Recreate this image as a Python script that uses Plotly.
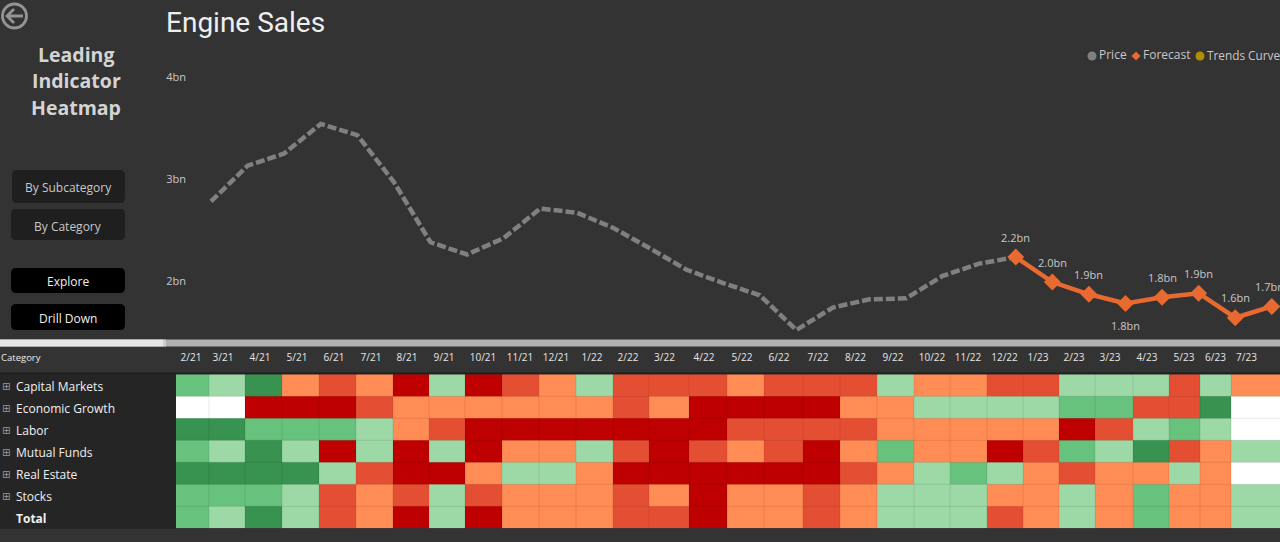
import plotly.graph_objects as go

W_PX, H_PX = 1280, 542

# ---------- data ----------
months = ["2/21","3/21","4/21","5/21","6/21","7/21","8/21","9/21","10/21","11/21","12/21","1/22",
          "2/22","3/22","4/22","5/22","6/22","7/22","8/22","9/22","10/22","11/22","12/22","1/23",
          "2/23","3/23","4/23","5/23","6/23","7/23"]
price = [2.78,3.13,3.25,3.54,3.43,2.97,2.38,2.26,2.42,2.71,2.67,2.52,2.32,2.11,1.98,1.86,1.52,
         1.74,1.82,1.83,2.05,2.17,2.235]
forecast_months = ["12/22","1/23","2/23","3/23","4/23","5/23","6/23","7/23"]
forecast = [2.235,1.99,1.87,1.78,1.84,1.88,1.64,1.75]
forecast_labels = ["2.2bn","2.0bn","1.9bn","1.8bn","1.8bn","1.9bn","1.6bn","1.7bn"]
categories = ["Capital Markets","Economic Growth","Labor","Mutual Funds","Real Estate","Stocks","Total"]
# score classes: 0 dark red, 1 red, 2 orange, 3 light green, 4 green, 5 dark green, 6 blank (white)
capital_markets = [4,3,5,2,1,2,0,3,0,1,2,3,1,1,1,2,1,1,1,3,2,2,1,1,3,3,3,1,3,2]
economic_growth = [6,6,0,0,0,1,2,2,2,2,2,2,1,2,0,0,0,0,2,2,3,3,3,3,4,4,1,1,5,6]
labor           = [5,5,4,4,4,3,2,1,0,0,0,0,0,0,0,1,1,1,1,2,2,2,2,2,0,1,3,4,3,6]
mutual_funds    = [4,3,5,3,0,3,0,3,0,2,2,3,1,0,1,2,1,0,2,4,2,2,0,1,4,3,5,1,2,3]
real_estate     = [5,5,5,5,3,1,0,0,2,3,3,2,0,0,0,0,0,0,1,2,3,4,3,2,1,2,2,3,2,6]
stocks          = [4,4,4,3,1,2,1,3,1,2,2,2,1,2,0,2,2,1,2,3,3,3,2,2,3,2,4,2,2,3]
total           = [4,3,5,3,1,2,0,3,0,2,2,2,1,1,0,2,2,1,2,3,3,3,1,2,3,2,4,2,2,3]

# ---------- layout helpers (pixel geometry of the page) ----------
col_edges = [176,209,245,282,319,356,393,429,465,502,539,576,613,649,689,727,764,803,840,877,
             914,950,987,1023,1059,1095,1133,1169,1200,1231,1280]
month_label_x = [191,223,260,297,334,371,407,444,483,520,556,592,628,664.5,704,742,779,818,855.5,
                 893,932,968,1004.5,1038,1074,1110,1147,1184,1215.5,1246.5]
ROW_TOP, ROW_H = 374.3, 22.0
LINE_X0, LINE_STEP = 211.0, 36.58
PLOT_L, PLOT_T, PLOT_B = 190, 60, 338
Y_AT_2 , PX_PER_BN = 281.0, 102.0

def px(x): return x / W_PX
def py(y): return 1 - y / H_PX
def rrect(x0, y0, x1, y1, r=5):
    return (f"M{px(x0+r)},{py(y0)} L{px(x1-r)},{py(y0)} Q{px(x1)},{py(y0)} {px(x1)},{py(y0+r)} "
            f"L{px(x1)},{py(y1-r)} Q{px(x1)},{py(y1)} {px(x1-r)},{py(y1)} L{px(x0+r)},{py(y1)} "
            f"Q{px(x0)},{py(y1)} {px(x0)},{py(y1-r)} L{px(x0)},{py(y0+r)} Q{px(x0)},{py(y0)} {px(x0+r)},{py(y0)} Z")

BG = "#333333"
UI = "Open Sans"
COLORS = ["#BE0000","#E44F33","#FF8C55","#9DD8A7","#66C27C","#37934F","#FFFFFF"]
scale = []
for i, c in enumerate(COLORS):
    scale += [[i/7, c], [(i+1)/7, c]]

fig = go.Figure()

# Price / Forecast lines
x_lookup = {m: i for i, m in enumerate(months)}
fig.add_trace(go.Scatter(x=[x_lookup[m] for m in months[:len(price)]], y=price, mode="lines", name="Price",
                         line=dict(color="#808080", width=4.5, dash="9px,3px"), xaxis="x", yaxis="y",
                         showlegend=False, hoverinfo="skip"))
forecast_x = [x_lookup[m] for m in forecast_months]
fig.add_trace(go.Scatter(x=forecast_x, y=forecast, mode="lines+markers", name="Forecast",
                         line=dict(color="#E96A30", width=4.5),
                         marker=dict(symbol="diamond", size=13, color="#E96A30"),
                         xaxis="x", yaxis="y", showlegend=False, hoverinfo="skip"))

# Heatmap
z = [capital_markets, economic_growth, labor, mutual_funds, real_estate, stocks, total]
fig.add_trace(go.Heatmap(z=z, x=col_edges, y=list(range(len(categories)+1)), zmin=0, zmax=7,
                         colorscale=scale, showscale=False, xaxis="x2", yaxis="y2", hoverinfo="skip"))

annotations = []
def text(x, y, t, size=12, color="#E6E6E6", anchor="left", family=UI, bold=False):
    annotations.append(dict(x=px(x), y=py(y), xref="paper", yref="paper", xanchor=anchor, yanchor="middle",
                            text=f"<b>{t}</b>" if bold else t, showarrow=False,
                            font=dict(size=size, color=color, family=family)))

# Forecast value labels
for i, (m, v, lab) in enumerate(zip(forecast_x, forecast, forecast_labels)):
    below = lab == "1.8bn" and i == 3
    last = i == len(forecast_x) - 1
    annotations.append(dict(x=m, y=v, xref="x", yref="y", text=lab, showarrow=False,
                            yshift=-22 if below else 20, xshift=-2 if last else 0,
                            font=dict(size=11, color="#C8C8C8", family=UI)))

# Title and side panel
text(164, 22, "Engine Sales", size=28, color="#EFEFEF", family="Roboto")
for y, t in zip([55, 81, 108], ["Leading", "Indicator", "Heatmap"]):
    text(76, y, t, size=19.5, color="#D4D4D4", anchor="center", bold=True)

shapes = []
def rect_px(x0, y0, x1, y1, color, layer="below"):
    shapes.append(dict(type="rect", xref="paper", yref="paper", x0=px(x0), x1=px(x1), y0=py(y1), y1=py(y0),
                       fillcolor=color, line=dict(width=0), layer=layer))

for (x0, y0, x1, y1, fill, label, col) in [
    (12,170,125,203,"#1F1F1F","By Subcategory","#C8C8C8"),
    (11,209,125,240,"#1F1F1F","By Category","#C8C8C8"),
    (11,268,125,293,"#000000","Explore","#EFEFEF"),
    (11,304,125,330,"#000000","Drill Down","#EFEFEF")]:
    shapes.append(dict(type="path", path=rrect(x0,y0,x1,y1), xref="paper", yref="paper",
                       fillcolor=fill, line=dict(width=0), layer="below"))
    text((x0+x1)/2, (y0+y1)/2 + 1.5, label, size=12, color=col, anchor="center")

# Back icon
shapes.append(dict(type="circle", xref="paper", yref="paper", x0=px(2.5), x1=px(26.5), y0=py(28), y1=py(4),
                   line=dict(color="#949494", width=2.8)))
shapes.append(dict(type="path", xref="paper", yref="paper",
                   path=f"M{px(23)},{py(16)} L{px(7)},{py(16)} M{px(14)},{py(9)} L{px(7)},{py(16)} L{px(14)},{py(23)}",
                   line=dict(color="#949494", width=2.8)))

# Legend
shapes.append(dict(type="circle", xref="paper", yref="paper", x0=px(1087.5), x1=px(1096.5), y0=py(60.5), y1=py(51.5),
                   fillcolor="#808080", line=dict(width=0)))
shapes.append(dict(type="path", xref="paper", yref="paper",
                   path=f"M{px(1136)},{py(51.5)} L{px(1140.5)},{py(56)} L{px(1136)},{py(60.5)} L{px(1131.5)},{py(56)} Z",
                   fillcolor="#E96A30", line=dict(width=0)))
shapes.append(dict(type="circle", xref="paper", yref="paper", x0=px(1195.5), x1=px(1204.5), y0=py(60.5), y1=py(51.5),
                   fillcolor="#B08F00", line=dict(width=0)))
text(1097, 55, "Price", color="#C8C8C8")
text(1141, 55, "Forecast", color="#C8C8C8")
text(1205, 55, "Trends Curve", size=11.8, color="#C8C8C8")

# Table furniture
rect_px(0, 339.5, 1280, 346.5, "#B0B0B0")
rect_px(0, 339.5, 163, 346.5, "#E6E6E6")
rect_px(163, 339.5, 166, 346.5, "#CCCCCC")
rect_px(0, 372.5, 1280, 374.5, "#1E1E1E")
rect_px(0, 374.5, 176, 529, "#252525")
text(-1.5, 357, "Category", size=9.5, color="#EAEAEA")

# faint cell seams, as in the reference
seam = "rgba(0,0,0,0.09)"
for e in col_edges[1:-1]:
    shapes.append(dict(type="line", xref="x2", yref="y2", x0=e, x1=e, y0=0, y1=len(categories),
                       line=dict(color=seam, width=1)))
for r in range(1, len(categories)):
    shapes.append(dict(type="line", xref="x2", yref="y2", x0=col_edges[0], x1=col_edges[-1], y0=r, y1=r,
                       line=dict(color=seam, width=1)))

for i, c in enumerate(categories):
    y = ROW_TOP + ROW_H * (i + 0.5) + 0.8
    if c != "Total":
        text(-0.5, y, "⊞", size=10, color="#9A9A9A", family="DejaVu Sans")
    text(14, y, c, size=12, color="#F0F0F0", bold=(c == "Total"))

fig.update_layout(
    width=W_PX, height=H_PX, margin=dict(l=0, r=0, t=0, b=0),
    paper_bgcolor=BG, plot_bgcolor=BG, showlegend=False,
    font=dict(family=UI, color="#C8C8C8"),
    xaxis=dict(domain=[px(PLOT_L), 1], range=[(PLOT_L-LINE_X0)/LINE_STEP, (W_PX-LINE_X0)/LINE_STEP],
               visible=False),
    yaxis=dict(domain=[py(PLOT_B), py(PLOT_T)],
               range=[2+(Y_AT_2-PLOT_B)/PX_PER_BN, 2+(Y_AT_2-PLOT_T)/PX_PER_BN],
               tickvals=[2,3,4], ticktext=["2bn","3bn","4bn"], showgrid=False, zeroline=False, showline=False,
               ticks="", tickfont=dict(size=11, color="#C8C8C8", family=UI), ticklabelstandoff=3),
    xaxis2=dict(domain=[px(col_edges[0]), 1], range=[col_edges[0], col_edges[-1]], anchor="y2", side="top",
                tickvals=month_label_x, ticktext=months, ticks="", showgrid=False, zeroline=False,
                tickfont=dict(size=10, color="#E6E6E6", family=UI), tickangle=0, ticklabelstandoff=10),
    yaxis2=dict(domain=[py(ROW_TOP+ROW_H*len(categories)), py(ROW_TOP)], range=[len(categories), 0], anchor="x2",
                visible=False),
    shapes=shapes, annotations=annotations,
)
fig.write_html("out.html", config=dict(displayModeBar=False),
               post_script="document.body.style.margin='0';document.body.style.overflow='hidden';")
